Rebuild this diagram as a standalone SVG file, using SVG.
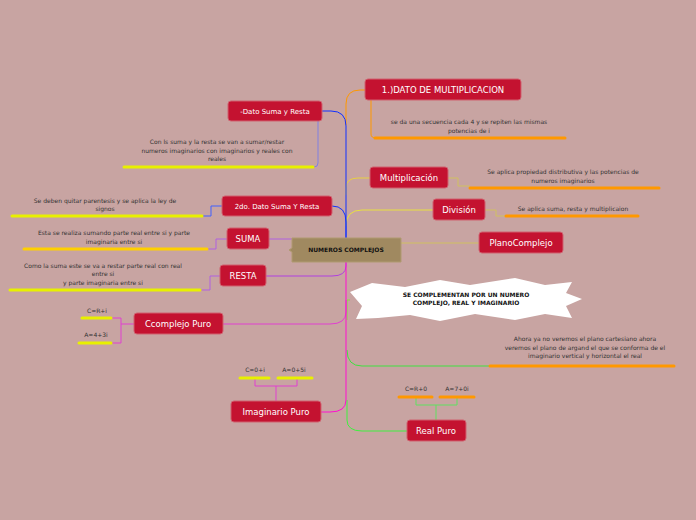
<svg xmlns="http://www.w3.org/2000/svg" width="696" height="520" viewBox="0 0 696 520">
<style>
.n{fill:#c41230;stroke:#d0606e;stroke-width:1}
.nt{fill:#fff;font-family:"DejaVu Sans",Verdana,sans-serif;font-size:8.5px;text-anchor:middle}
.s{font-size:7px}
.t{fill:#333;font-family:"DejaVu Sans",Verdana,sans-serif;font-size:6px;text-anchor:middle}
.c{fill:none;stroke-width:1}
.y{stroke:#e8f000;stroke-width:3;stroke-linecap:round}
.o{stroke:#ff9800;stroke-width:3;stroke-linecap:round}
.g{stroke:#ffd000;stroke-width:3;stroke-linecap:round}
</style>
<rect width="696" height="520" fill="#c8a4a2"/>
<g id="connectors">
<path class="c" d="M346,125 V104 Q346,90 360,90 H365" stroke="#ff9800" stroke-width="1.5"/>
<path class="c" d="M346,195 V188 Q346,178 358,178 H370" stroke="#e8d040"/>
<path class="c" d="M346,226 Q346,210 362,210 H433" stroke="#e8e040"/>
<path class="c" d="M401,243 H479" stroke="#d0c060"/>
<path class="c" d="M292,239 H269" stroke="#b060e0"/>
<path class="c" d="M346,262 V266 Q346,276 332,276 H266" stroke="#b040e0"/>
<path class="c" d="M347,350 Q347,366 362,366 H490" stroke="#40e040"/>
<path class="c" d="M347,400 V420 Q347,431 362,431 H407" stroke="#40f040" stroke-width="1.5"/>
<path class="c" d="M347,320 V300 Q349,300 350,300" stroke="#80e040"/>
<path class="c" d="M346,300 V312 Q346,324 330,324 H223" stroke="#e040d0"/>
<path class="c" d="M346,238 V126 Q346,111 331,111 H322" stroke="#1030ff" stroke-width="2.5"/>
<path class="c" d="M346,238 V222 Q346,206 332,206" stroke="#1030ff" stroke-width="2.5"/>
<path class="c" d="M346,262 V400 Q346,412 330,412 H321" stroke="#ff10d0" stroke-width="2.5"/>
<path class="c" d="M318,121 V163 Q318,167 314,167" stroke="#8080e0"/>
<path class="c" d="M371,100 V134 Q371,138 376,138" stroke="#ff9800"/>
<path class="c" d="M448,178 H458 V186 H470" stroke="#d0c060"/>
<path class="c" d="M485,210 H496 V216 H506" stroke="#d0c060"/>
<path class="c" d="M222,206 H211 V216 H202" stroke="#4060ff"/>
<path class="c" d="M227,239 H216 V249 H207" stroke="#b060e0"/>
<path class="c" d="M220,276 H210 V290 H201" stroke="#b060e0"/>
<path class="c" d="M134,324 H121 M121,318 V343 M111,318 H121 M111,343 H121" stroke="#e040d0"/>
<path class="c" d="M276,401 V386 M255,379 V386 H297 V379" stroke="#e040d0"/>
<path class="c" d="M436,420 V405 M416,398 V405 H457 V398" stroke="#60e060"/>
</g>
<g id="lines">
<line class="y" x1="124" y1="167" x2="313" y2="167"/>
<line class="o" x1="375" y1="138" x2="565" y2="138"/>
<line class="o" x1="470" y1="188" x2="659" y2="188"/>
<line class="o" x1="506" y1="216" x2="638" y2="216"/>
<line class="y" x1="12" y1="216" x2="202" y2="216"/>
<line class="g" x1="24" y1="249" x2="207" y2="249"/>
<line class="y" x1="10" y1="290" x2="200" y2="290"/>
<line class="o" x1="490" y1="366" x2="674" y2="366"/>
<line class="y" x1="82" y1="318" x2="111" y2="318"/>
<line class="y" x1="79" y1="343" x2="111" y2="343"/>
<line class="y" x1="240" y1="378" x2="269" y2="378"/>
<line class="y" x1="278" y1="378" x2="312" y2="378"/>
<line class="o" x1="399" y1="397" x2="432" y2="397"/>
<line class="o" x1="440" y1="397" x2="474" y2="397"/>
</g>
<g id="center"><path d="M292,238 H401 V262 H292 V252 L289,250 L292,248 Z" fill="#a08960" stroke="#b09a70"/><text x="346" y="252" text-anchor="middle" font-family="DejaVu Sans,Verdana,sans-serif" font-size="6" font-weight="bold" fill="#111">NUMEROS COMPLEJOS</text></g>
<g id="n1"><rect class="n" x="228" y="101" width="94" height="20" rx="3"/><text class="nt s" x="275" y="113.5">-Dato Suma y Resta</text></g>
<g id="n2"><rect class="n" x="365" y="79" width="156" height="21" rx="3"/><text class="nt" x="443" y="93">1.)DATO DE MULTIPLICACION</text></g>
<g id="n3"><rect class="n" x="370" y="167" width="78" height="21" rx="3"/><text class="nt" x="409" y="181">Multiplicación</text></g>
<g id="n4"><rect class="n" x="433" y="199" width="52" height="21" rx="3"/><text class="nt" x="459" y="213">División</text></g>
<g id="n5"><rect class="n" x="479" y="232" width="84" height="21" rx="3"/><text class="nt" x="521" y="246">PlanoComplejo</text></g>
<g id="n6"><rect class="n" x="222" y="196" width="110" height="20" rx="3"/><text class="nt s" x="277" y="208.5">2do. Dato Suma Y Resta</text></g>
<g id="n7"><rect class="n" x="227" y="228" width="42" height="21" rx="3"/><text class="nt" x="248" y="242">SUMA</text></g>
<g id="n8"><rect class="n" x="220" y="265" width="46" height="21" rx="3"/><text class="nt" x="243" y="279">RESTA</text></g>
<g id="n9"><rect class="n" x="134" y="313" width="89" height="21" rx="3"/><text class="nt" x="178" y="327">Ccomplejo Puro</text></g>
<g id="n10"><rect class="n" x="231" y="401" width="90" height="21" rx="3"/><text class="nt" x="276" y="415">Imaginario Puro</text></g>
<g id="n11"><rect class="n" x="407" y="420" width="59" height="21" rx="3"/><text class="nt" x="436" y="434">Real Puro</text></g>
<g id="star"><polygon points="350,292 372,283 405,287 440,280 470,285 515,278 545,285 572,282 566,293 582,299 566,306 572,318 545,314 515,320 475,314 440,321 410,315 378,318 356,319 362,306" fill="#fff"/><text x="466" y="297" text-anchor="middle" font-family="DejaVu Sans,Verdana,sans-serif" font-size="6" font-weight="bold" fill="#111">SE COMPLEMENTAN POR UN NUMERO</text><text x="466" y="305" text-anchor="middle" font-family="DejaVu Sans,Verdana,sans-serif" font-size="6" font-weight="bold" fill="#111">COMPLEJO, REAL Y IMAGINARIO</text></g>
<g id="texts">
<text class="t" x="217" y="144">Con ls suma y la resta se van a sumar/restar</text>
<text class="t" x="217" y="153">numeros imaginarios con imaginarios y reales con</text>
<text class="t" x="217" y="161">reales</text>
<text class="t" x="469" y="124">se da una secuencia cada 4 y se repiten las mismas</text>
<text class="t" x="469" y="133">potencias de i</text>
<text class="t" x="563" y="174">Se aplica propiedad distributiva y las potencias de</text>
<text class="t" x="563" y="183">numeros imaginarios</text>
<text class="t" x="573" y="211">Se aplica suma, resta y multiplicaion</text>
<text class="t" x="105" y="203">Se deben quitar parentesis y se aplica la ley de</text>
<text class="t" x="105" y="211">signos</text>
<text class="t" x="114" y="235">Esta se realiza sumando parte real entre si y parte</text>
<text class="t" x="114" y="244">imaginaria entre si</text>
<text class="t" x="103" y="268">Como la suma este se va a restar parte real con real</text>
<text class="t" x="103" y="276">entre si</text>
<text class="t" x="103" y="285">y parte imaginaria entre si</text>
<text class="t" x="97" y="313">C=R+i</text>
<text class="t" x="96" y="337">A=4+3i</text>
<text class="t" x="255" y="372">C=0+i</text>
<text class="t" x="294" y="372">A=0+5i</text>
<text class="t" x="416" y="391">C=R+0</text>
<text class="t" x="457" y="391">A=7+0i</text>
<text class="t" x="585" y="341">Ahora ya no veremos el plano cartesiano ahora</text>
<text class="t" x="585" y="350">veremos el plano de argand el que se conforma de el</text>
<text class="t" x="585" y="358">imaginario vertical y horizontal el real</text>
</g>
</svg>
